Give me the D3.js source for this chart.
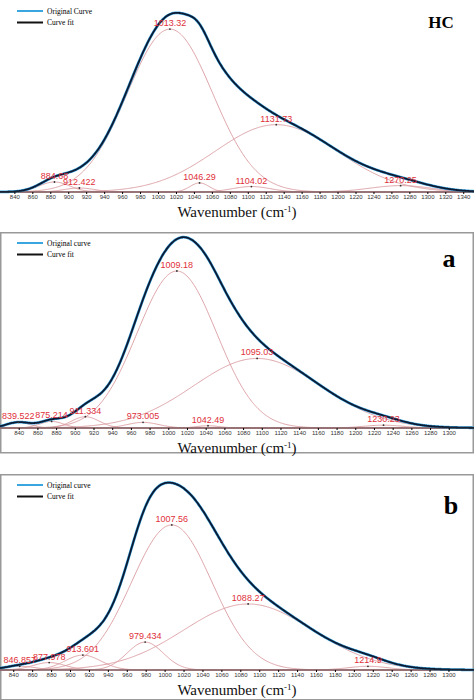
<!DOCTYPE html>
<html><head><meta charset="utf-8">
<script src="https://cdn.jsdelivr.net/npm/d3@7"></script>
<style>body{margin:0;background:#fff}svg{display:block}</style>
</head><body>
<script>
// ピーク位置・高さ・半値幅（パネルごと）
const hcCenters = [884.68, 912.422, 1013.32, 1046.29, 1104.02, 1131.73, 1270.25];
const hcHeights = [0.055, 0.022, 0.895, 0.05, 0.03, 0.37, 0.035];
const hcWidths  = [40, 40, 112, 25, 50, 160, 80];
const hcLabels  = ['884.68', '912.422', '1013.32', '1046.29', '1104.02', '1131.73', '1270.25'];

const aCenters = [839.522, 875.214, 911.334, 973.005, 1009.18, 1042.49, 1095.03, 1230.23];
const aHeights = [0.03, 0.035, 0.06, 0.03, 0.835, 0.012, 0.37, 0.015];
const aWidths  = [30, 30, 35, 40, 100, 30, 160, 50];
const aLabels  = ['839.522', '875.214', '911.334', '973.005', '1009.18', '1042.49', '1095.03', '1230.23'];

const bCenters = [846.857, 877.978, 913.601, 979.434, 1007.56, 1088.27, 1214.9];
const bHeights = [0.02, 0.04, 0.08, 0.15, 0.78, 0.355, 0.02];
const bWidths  = [40, 40, 45, 45, 100, 160, 50];
const bLabels  = ['846.857', '877.978', '913.601', '979.434', '1007.56', '1088.27', '1214.9'];

const tickValues = d3.range(840, 1341, 20);

const root = d3.select('body').append('svg').attr('width', 474).attr('height', 700);

const gauss = (x, c, h, w) => h * Math.exp(-4 * Math.LN2 * (x - c) * (x - c) / (w * w));

function drawPanel(p){
	const g = root.append('g');
	if(p.frame){
		g.append('rect').attr('x', 0.75).attr('y', p.top + 0.75).attr('width', 472.5).attr('height', p.bottom - p.top)
			.attr('fill', 'none').attr('stroke', '#999').attr('stroke-width', 1.5);
	}
	const x = d3.scaleLinear().domain(p.xDomain).range([0, 474]);
	const y = d3.scaleLinear().domain([0, 1]).range([p.base, p.base - p.scaleH]);
	const xs = d3.range(p.xDomain[0], p.xDomain[1] + 1, 1);
	const line = d3.line().x(d => x(d[0])).y(d => y(d[1])).curve(d3.curveBasis);

	// 成分ピーク
	p.centers.forEach((c, i) => {
		g.append('path').datum(xs.map(v => [v, gauss(v, c, p.heights[i], p.widths[i])]))
			.attr('d', line).attr('fill', 'none').attr('stroke', '#d99a9f').attr('stroke-width', 0.9);
	});
	// 合成曲線
	const total = xs.map(v => [v, d3.sum(p.centers, (c, i) => gauss(v, c, p.heights[i], p.widths[i]))]);
	g.append('path').datum(total).attr('d', line).attr('fill', 'none').attr('stroke', '#3aa6e0').attr('stroke-width', 2.8);
	g.append('path').datum(total).attr('d', line).attr('fill', 'none').attr('stroke', '#0d1a33').attr('stroke-width', 1.8);

	// ピークラベル
	p.centers.forEach((c, i) => {
		g.append('circle').attr('cx', x(c)).attr('cy', y(p.heights[i])).attr('r', 0.9).attr('fill', '#333');
		g.append('text').attr('x', x(c)).attr('y', y(p.heights[i]) - 3).attr('text-anchor', 'middle')
			.attr('font-family', 'Liberation Sans, Arial').attr('font-size', 9).attr('fill', '#e0303a')
			.text(p.labels[i]);
	});

	// 軸
	g.append('line').attr('x1', 0).attr('x2', 474).attr('y1', p.base).attr('y2', p.base).attr('stroke', '#333').attr('stroke-width', 0.8);
	const ax = g.append('g').attr('transform', 'translate(0,' + p.base + ')')
		.call(d3.axisBottom(x).tickValues(tickValues.filter(t => x(t) > 8 && x(t) < 466)).tickFormat(d3.format('d')).tickSize(2).tickPadding(1));
	ax.select('.domain').remove();
	ax.selectAll('text').attr('font-size', 6).attr('font-family', 'Liberation Sans Narrow, Arial').attr('fill', '#333');
	const xl = g.append('text').attr('x', 237).attr('y', p.base + 25).attr('text-anchor', 'middle')
		.attr('font-family', 'Liberation Serif, Times New Roman').attr('font-size', 15).attr('fill', '#111');
	xl.append('tspan').text('Wavenumber (cm');
	xl.append('tspan').text('-1').attr('dy', -5).attr('font-size', 9);
	xl.append('tspan').text(')').attr('dy', 5);

	// 凡例
	[['#3aa6e0', p.leg[0]], ['#111', p.leg[1]]].forEach((d, i) => {
		const ly = p.top + 11 + i * 11.5;
		g.append('line').attr('x1', 17).attr('x2', 43).attr('y1', ly).attr('y2', ly).attr('stroke', d[0]).attr('stroke-width', 2);
		g.append('text').attr('x', 47).attr('y', ly + 2.5).attr('font-family', 'Liberation Serif').attr('font-size', 7.5).text(d[1]);
	});
	g.append('text').attr('x', p.tagX).attr('y', p.top + p.tagDy).attr('text-anchor', 'middle')
		.attr('font-family', 'Liberation Serif').attr('font-weight', 'bold').attr('font-size', p.tagSize).text(p.tag);
}

drawPanel({top: 0, bottom: 218, base: 192, scaleH: 182, xDomain: [824, 1352], frame: false,
	centers: hcCenters, heights: hcHeights, widths: hcWidths, labels: hcLabels,
	leg: ['Original Curve', 'Curve fit'], tag: 'HC', tagX: 441, tagDy: 28, tagSize: 17});
drawPanel({top: 232, bottom: 452, base: 428, scaleH: 188, xDomain: [820, 1327], frame: true,
	centers: aCenters, heights: aHeights, widths: aWidths, labels: aLabels,
	leg: ['Original curve', 'Curve fit'], tag: 'a', tagX: 449, tagDy: 35, tagSize: 26});
drawPanel({top: 474, bottom: 699, base: 670, scaleH: 186, xDomain: [826, 1327], frame: true,
	centers: bCenters, heights: bHeights, widths: bWidths, labels: bLabels,
	leg: ['Original curve', 'Curve fit'], tag: 'b', tagX: 451, tagDy: 40, tagSize: 26});
</script>
</body></html>
